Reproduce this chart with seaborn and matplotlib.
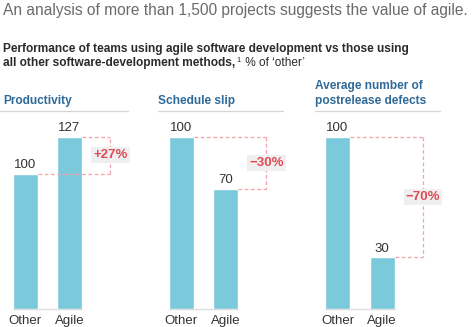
import matplotlib
matplotlib.use("Agg")
import matplotlib.pyplot as plt
import seaborn as sns
import pandas as pd
from matplotlib.lines import Line2D

# ---- data ----
categories = ["Other", "Agile"]
panel_titles = ["Productivity", "Schedule slip", "Average number of\npostrelease defects"]
productivity = [100, 127]
schedule_slip = [100, 70]
postrelease_defects = [100, 30]
changes = ["+27%", "\u221230%", "\u221270%"]

title = "An analysis of more than 1,500 projects suggests the value of agile."
subtitle1 = "Performance of teams using agile software development vs those using"
subtitle2_bold = "all other software-development methods,"
subtitle2_sup = "1"
subtitle2_rest = " % of \u2018other\u2019"

sns.set_theme(style="white")
plt.rcParams["font.family"] = ["Liberation Sans", "DejaVu Sans"]

W, H = 474, 327
fig = plt.figure(figsize=(W / 100, H / 100), dpi=100)
fig.patch.set_facecolor("white")

BAR = "#7acadc"
RED_LINE = "#f2a3ab"
RED_TXT = "#e04a55"
BLUE = "#2f6a98"
RULE = "#d4d4d4"


def fx(px):
    return px / W


def fy(py):
    return 1 - py / H


# titles
fig.text(fx(3), fy(10), title, fontsize=11.2, color="#6b6b6b", va="center", ha="left")
fig.text(fx(3), fy(49), subtitle1, fontsize=8.6, color="#2b2b2b", fontweight="bold",
         va="center", ha="left")
t2 = fig.text(fx(3), fy(63), subtitle2_bold, fontsize=8.6, color="#2b2b2b",
              fontweight="bold", va="center", ha="left")
fig.canvas.draw()
r = fig.canvas.get_renderer()
bb = t2.get_window_extent(r)
x_end = bb.x1 / W
t3 = fig.text(x_end + 1.5 / W, fy(60), subtitle2_sup, fontsize=5.5, color="#2b2b2b",
              va="center", ha="left")
bb3 = t3.get_window_extent(r)
fig.text(bb3.x1 / W + 1.5 / W, fy(63), subtitle2_rest, fontsize=8.6, color="#2b2b2b",
         va="center", ha="left")

series = [productivity, schedule_slip, postrelease_defects]
other_centers = [25, 181, 337.5]
title_x = [3, 158, 315]
rule_spans = [(0, 128), (158, 283), (315, 440)]
unit = 44.5          # px between category centres
bar_w = 25 / unit
base_y, top_y = 309, 137

for i, (vals, label, c0) in enumerate(zip(series, changes, other_centers)):
    left_px = c0 - 0.6 * unit
    right_px = c0 + 2.4 * unit
    ax = fig.add_axes([fx(left_px), fy(base_y), (right_px - left_px) / W, (base_y - top_y) / H])
    df = pd.DataFrame({"group": categories, "value": vals})
    sns.barplot(data=df, x="group", y="value", ax=ax, color=BAR, saturation=1,
                width=bar_w, order=categories)
    ax.set_xlim(-0.6, 2.4)
    ax.set_ylim(0, max(vals))
    ax.set_facecolor("none")
    for s in ax.spines.values():
        s.set_visible(False)
    ax.set_yticks([])
    ax.set_xlabel("")
    ax.set_ylabel("")
    ax.tick_params(axis="x", length=0, pad=4, labelsize=9.5, labelcolor="#333333")
    ax.bar_label(ax.containers[0], padding=2, fontsize=9.5, color="#333333")
    # baseline
    ax.plot([-bar_w / 2, 1 + bar_w / 2], [0, 0], color="#dddddd", lw=1, zorder=0,
            clip_on=False)
    # dashed difference bracket
    vx = 1.92
    kw = dict(color=RED_LINE, lw=0.9, dashes=(3, 2), clip_on=False, zorder=3)
    ax.plot([bar_w / 2, vx], [vals[0], vals[0]], **kw)
    ax.plot([1 + bar_w / 2, vx], [vals[1], vals[1]], **kw)
    ax.plot([vx, vx], [vals[0], vals[1]], **kw)
    ax.text(vx, (vals[0] + vals[1]) / 2, label, ha="center", va="center", fontsize=9.5,
            color=RED_TXT, fontweight="bold", zorder=4,
            bbox=dict(facecolor="#efefef", edgecolor="none", pad=1.5))

    # panel title and rule
    lines = panel_titles[i].split("\n")
    ys = [101] if len(lines) == 1 else [86, 101]
    for ln, yy in zip(lines, ys):
        fig.text(fx(title_x[i]), fy(yy), ln, fontsize=8.6, color=BLUE, fontweight="bold",
                 va="center", ha="left")
    x0, x1 = rule_spans[i]
    fig.add_artist(Line2D([fx(x0), fx(x1)], [fy(111.5), fy(111.5)], color=RULE, lw=0.9))

fig.savefig("out.png", dpi=100)
